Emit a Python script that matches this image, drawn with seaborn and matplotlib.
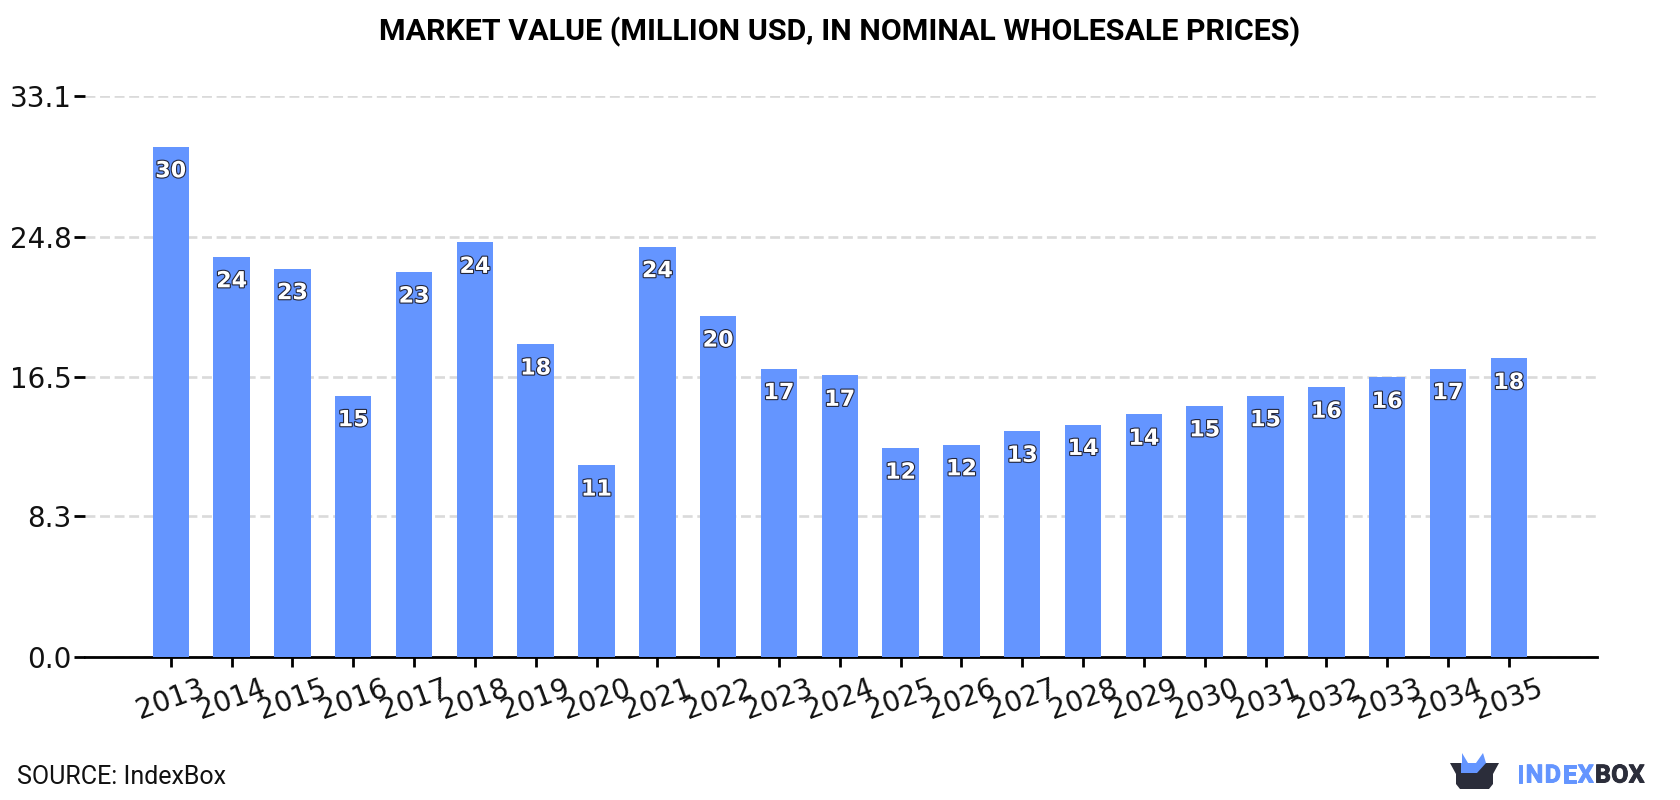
import matplotlib
matplotlib.use("Agg")
import matplotlib.pyplot as plt
import matplotlib.patheffects as pe
from matplotlib.patches import Polygon
import pandas as pd
import seaborn as sns

years = [2013, 2014, 2015, 2016, 2017, 2018, 2019, 2020, 2021, 2022, 2023, 2024,
         2025, 2026, 2027, 2028, 2029, 2030, 2031, 2032, 2033, 2034, 2035]
market_value = [30.1, 23.6, 22.9, 15.4, 22.7, 24.45, 18.45, 11.3, 24.2, 20.1, 17.0, 16.6,
                12.3, 12.5, 13.3, 13.7, 14.3, 14.8, 15.4, 15.9, 16.48, 17.0, 17.6]
y_ticks = [0.0, 8.3, 16.5, 24.8, 33.1]
title = "MARKET VALUE (MILLION USD, IN NOMINAL WHOLESALE PRICES)"
source = "SOURCE: IndexBox"

BAR = "#6495FF"
DARK = "#2B2D3A"

sns.set_theme(style="white")
fig = plt.figure(figsize=(16.8, 8), dpi=100, facecolor="white")
ax = fig.add_axes([85 / 1680, 1 - 656.5 / 800, (1597 - 85) / 1680, (656.5 - 96.0) / 800])

df = pd.DataFrame({"year": [str(y) for y in years], "value": market_value})
sns.barplot(data=df, x="year", y="value", color=BAR, saturation=1, width=0.6,
            linewidth=0, edgecolor="none", ax=ax, zorder=3)

ax.set_xlim(-1.41, 23.45)
ax.set_ylim(0, 33.1)
ax.set_xlabel("")
ax.set_ylabel("")
ax.set_yticks(y_ticks)
ax.set_yticklabels([f"{t:.1f}" for t in y_ticks], fontsize=20, color="#111111", family="DejaVu Sans")
ax.tick_params(axis="y", length=8, width=2, color="black", pad=1.5, left=True)
ax.tick_params(axis="x", length=7, width=2, color="black", pad=6, bottom=True)
plt.setp(ax.get_xticklabels(), rotation=20, fontsize=20, color="#111111",
         family="DejaVu Sans", ha="center", rotation_mode="default")

ax.grid(False)
ax.yaxis.grid(True, color="#DADADA", linestyle=(0, (3.75, 1.77)), linewidth=1.9, zorder=0)
ax.set_axisbelow(True)
for side in ("top", "left", "right"):
    ax.spines[side].set_visible(False)
ax.spines["bottom"].set_color("black")
ax.spines["bottom"].set_linewidth(2)

# Rounded values sit just inside the top of each bar
for i, v in enumerate(market_value):
    ax.annotate(f"{v:.0f}", (i, v), xytext=(0, -17.6), textcoords="offset points",
                ha="center", va="center", fontsize=16, fontweight="bold",
                family="DejaVu Sans", color="white", zorder=5,
                path_effects=[pe.withStroke(linewidth=1.6, foreground="#23263A")])

fig.text(0.5, 1 - 32 / 800, title, ha="center", va="center", fontsize=21.9,
         fontweight="bold", family="Roboto", color="black")
fig.text(17 / 1680, 1 - 776.5 / 800, source, ha="left", va="center", fontsize=18,
         family="Roboto", color="#111111")

# Brand mark: an open box with a blue shape rising out of it
logo = fig.add_axes([0, 0, 1, 1], facecolor="none")
logo.set_xlim(0, 1680)
logo.set_ylim(800, 0)
logo.axis("off")
logo.add_patch(Polygon([(1462, 772), (1462, 753), (1468, 763), (1476, 763), (1483, 753),
                        (1486, 763), (1486, 772), (1474, 778)], closed=True,
                       facecolor=BAR, edgecolor="none"))
logo.add_patch(Polygon([(1450, 763), (1499, 763), (1493, 774), (1493, 784), (1489, 789),
                        (1460, 789), (1456, 784), (1456, 774)], closed=True,
                       facecolor=DARK, edgecolor="none"))
logo.add_patch(Polygon([(1461, 763), (1486, 763), (1477, 773), (1461, 773)], closed=True,
                       facecolor=BAR, edgecolor="none"))

# Wordmark set letter by letter for its wide tracking
renderer = fig.canvas.get_renderer()
pen_x = 1517.0
for word, colour, tracking in (("INDEX", BAR, 1.3), ("BOX", DARK, 0.2)):
    for letter in word:
        glyph = logo.text(pen_x, 775.5, letter, ha="left", va="center", fontsize=18,
                          fontweight="bold", family="Roboto", color=colour,
                          path_effects=[pe.withStroke(linewidth=0.7, foreground=colour)])
        pen_x += glyph.get_window_extent(renderer).width + tracking

fig.savefig("out.png", dpi=100, facecolor="white")
